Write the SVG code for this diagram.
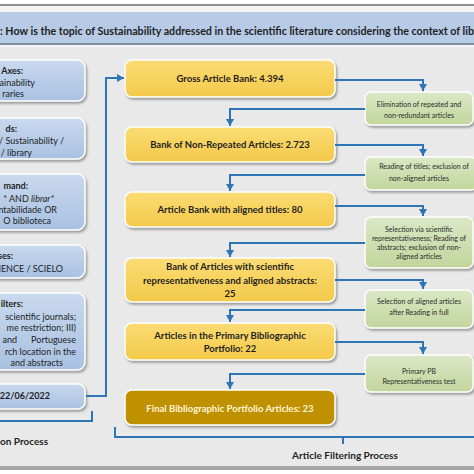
<svg xmlns="http://www.w3.org/2000/svg" width="474" height="474" viewBox="0 0 474 474">
<defs>
<filter id="sh" x="-10%" y="-20%" width="130%" height="150%">
<feDropShadow dx="1.5" dy="2" stdDeviation="1.2" flood-color="#7a7a7a" flood-opacity="0.7"/>
</filter>
<linearGradient id="gy" x1="0" y1="0" x2="0" y2="1"><stop offset="0" stop-color="#fbdc74"/><stop offset="1" stop-color="#f3c94a"/></linearGradient>
<linearGradient id="gg" x1="0" y1="0" x2="0" y2="1"><stop offset="0" stop-color="#dbe8c6"/><stop offset="1" stop-color="#c2d69c"/></linearGradient>
<linearGradient id="gb" x1="0" y1="0" x2="0" y2="1"><stop offset="0" stop-color="#c9d9ee"/><stop offset="1" stop-color="#a9c1e2"/></linearGradient>
<marker id="ar" markerUnits="userSpaceOnUse" markerWidth="9" markerHeight="9" refX="7" refY="4.5" orient="auto">
<path d="M0,0.5 L7,4.5 L0,8.5 Z" fill="#2e75b6"/>
</marker>
<style>
text{font-family:Lato,"Liberation Sans",sans-serif;fill:#1f1f1f}
.ybox{fill:url(#gy);stroke:#ffffff;stroke-width:1.5;filter:url(#sh)}
.gbox{fill:url(#gg);stroke:#ffffff;stroke-width:1.5;filter:url(#sh)}
.bbox{fill:url(#gb);stroke:#ffffff;stroke-width:1.5;filter:url(#sh)}
.fbox{fill:#bf9000;stroke:#ffffff;stroke-width:1.5;filter:url(#sh)}
.yt{font-size:9.5px;font-weight:bold;text-anchor:middle}
.gt{font-size:7px;text-anchor:middle;fill:#2b2b2b}
.bt{font-size:9px;text-anchor:end}
.bb{font-size:9px;font-weight:bold;text-anchor:end}
.con{fill:none;stroke:#2e75b6;stroke-width:2}
.lbl{font-size:10px;font-weight:bold}
</style>
</defs>
<rect x="0" y="0" width="474" height="474" fill="#e9e9e9"/>
<rect x="0" y="0" width="474" height="4" fill="#ffffff"/>
<rect x="0" y="4" width="474" height="2" fill="#8f8f8f"/>
<rect x="0" y="6" width="474" height="6" fill="#f3f3f3"/>
<rect x="0" y="12" width="474" height="31" fill="#b7cae6"/>
<rect x="0" y="43" width="474" height="2" fill="#7f8ea3"/>
<rect x="0" y="45" width="474" height="2" fill="#f5f5f5"/>
<text x="0" y="35" font-size="10.5" font-weight="bold" textLength="478" lengthAdjust="spacingAndGlyphs">: How is the topic of Sustainability addressed in the scientific literature considering the context of libr</text>
<rect x="0" y="466" width="474" height="4" fill="#a6a6a6"/>
<rect x="0" y="470" width="474" height="4" fill="#ffffff"/>

<g id="left1"><rect class="bbox" x="-10" y="60" width="95" height="41" rx="8"/>
<text class="bb" x="23" y="73.5">Axes:</text><text class="bt" x="35" y="85.5">ainability</text><text class="bt" x="24" y="96.5">raries</text></g>
<g id="left2"><rect class="bbox" x="-10" y="118" width="95" height="41" rx="8"/>
<text class="bb" x="17" y="131.5">ds:</text><text class="bt" x="64" y="143.5">/ Sustainability /</text><text class="bt" x="32" y="155.5">/ library</text></g>
<g id="left3"><rect class="bbox" x="-10" y="174" width="95" height="56" rx="8"/>
<text class="bb" x="28" y="188.5">mand:</text><text class="bt" x="54" y="201.5">* AND <tspan font-style="italic">librar*</tspan></text><text class="bt" x="57" y="212.5">ntabilidade OR</text><text class="bt" x="51" y="223.5">O biblioteca</text></g>
<g id="left4"><rect class="bbox" x="-10" y="245" width="95" height="33" rx="8"/>
<text class="bb" x="13" y="258.5">ses:</text><text class="bt" x="63" y="271.5">CIENCE / SCIELO</text></g>
<g id="left5"><rect class="bbox" x="-10" y="293" width="95" height="77" rx="8"/>
<text class="bb" x="23" y="306.5">ilters:</text><text class="bt" x="76" y="319.5">scientific journals;</text><text class="bt" x="76" y="330.5">me restriction; III)</text><text class="bt" x="17" y="342.5">and</text><text class="bt" x="76" y="342.5">Portuguese</text><text class="bt" x="76" y="354.5">rch location in the</text><text class="bt" x="63" y="365.5">and abstracts</text></g>
<g id="left6"><rect class="bbox" x="-10" y="384" width="95" height="25" rx="7"/>
<text class="bb" x="50" y="398.5">22/06/2022</text></g>

<g id="n1"><rect class="ybox" x="125" y="60" width="210" height="37" rx="7"/><text class="yt" x="230" y="82">Gross Article Bank: 4.394</text></g>
<g id="n2"><rect class="ybox" x="125" y="127" width="210" height="35" rx="7"/><text class="yt" x="230" y="148">Bank of Non-Repeated Articles: 2.723</text></g>
<g id="n3"><rect class="ybox" x="125" y="192" width="210" height="35" rx="7"/><text class="yt" x="230" y="213">Article Bank with aligned titles: 80</text></g>
<g id="n4"><rect class="ybox" x="125" y="258" width="210" height="44" rx="7"/><text class="yt" x="230" y="270">Bank of Articles with scientific</text><text class="yt" x="230" y="284">representativeness and aligned abstracts:</text><text class="yt" x="230" y="297">25</text></g>
<g id="n5"><rect class="ybox" x="125" y="323" width="210" height="37" rx="7"/><text class="yt" x="230" y="339">Articles in the Primary Bibliographic</text><text class="yt" x="230" y="352">Portfolio: 22</text></g>
<g id="n6"><rect class="fbox" x="125" y="390" width="210" height="35" rx="7"/><text class="yt" x="230" y="412" style="fill:#fff5d6">Final Bibliographic Portfolio Articles: 23</text></g>

<g id="g1"><rect class="gbox" x="365" y="92" width="108" height="33" rx="6"/><text class="gt" x="419" y="106.5">Elimination of repeated and</text><text class="gt" x="419" y="117.5">non-redundant articles</text></g>
<g id="g2"><rect class="gbox" x="365" y="157" width="112" height="33" rx="6"/><text class="gt" x="424" y="168.5">Reading of titles; exclusion of</text><text class="gt" x="419" y="180.5">non-aligned articles</text></g>
<g id="g3"><rect class="gbox" x="365" y="217" width="108" height="51" rx="6"/><text class="gt" x="419" y="231.5">Selection via scientific</text><text class="gt" x="419" y="240.5">representativeness; Reading of</text><text class="gt" x="419" y="249.5">abstracts; exclusion of non-</text><text class="gt" x="419" y="258.5">aligned articles</text></g>
<g id="g4"><rect class="gbox" x="365" y="290" width="108" height="38" rx="6"/><text class="gt" x="419" y="304">Selection of aligned articles</text><text class="gt" x="419" y="315">after Reading in full</text></g>
<g id="g5"><rect class="gbox" x="365" y="355" width="108" height="37" rx="6"/><text class="gt" x="419" y="373.5">Primary PB</text><text class="gt" x="419" y="384">Representativeness test</text></g>

<g id="connectors">
<path class="con" d="M86 396 H106 V78 H124" marker-end="url(#ar)"/>
<path class="con" d="M335 80 H423 V91" marker-end="url(#ar)"/>
<path class="con" d="M365 109 H230 V126" marker-end="url(#ar)"/>
<path class="con" d="M335 145 H423 V156" marker-end="url(#ar)"/>
<path class="con" d="M365 175 H230 V191" marker-end="url(#ar)"/>
<path class="con" d="M335 206 H423 V216" marker-end="url(#ar)"/>
<path class="con" d="M365 243 H230 V257" marker-end="url(#ar)"/>
<path class="con" d="M335 280 H423 V289" marker-end="url(#ar)"/>
<path class="con" d="M365 310 H230 V322" marker-end="url(#ar)"/>
<path class="con" d="M335 342 H423 V354" marker-end="url(#ar)"/>
<path class="con" d="M365 374 H230 V389" marker-end="url(#ar)"/>
<path class="con" d="M0 421 H92 V411"/>
<path class="con" d="M115 427 V437 H474 M343 437 V444"/>
</g>
<text class="lbl" x="0" y="445">on Process</text>
<text class="lbl" x="345" y="459" text-anchor="middle">Article Filtering Process</text>
</svg>
